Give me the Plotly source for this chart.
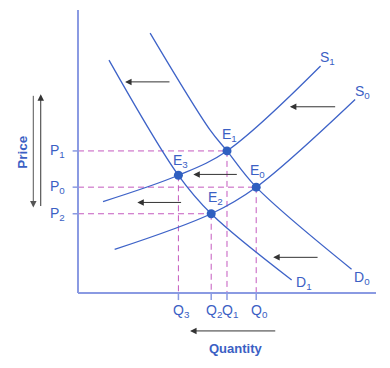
import plotly.graph_objects as go

# ---- data (arbitrary units: quantity 0-100, price 0-100) ----
# equilibrium points
eq_names = ["E0", "E1", "E2", "E3"]
eq_q = [59.8, 50.0, 44.7, 33.7]
eq_p = [37.4, 50.2, 28.0, 41.6]

# price tick labels and quantity tick labels
p_labels = ["P<sub>1</sub>", "P<sub>0</sub>", "P<sub>2</sub>"]
p_values = [50.2, 37.4, 28.0]
p_to_q = [50.0, 59.8, 44.7]
q_labels = ["Q<sub>3</sub>", "Q<sub>2</sub>", "Q<sub>1</sub>", "Q<sub>0</sub>"]
q_values = [33.7, 44.7, 50.0, 59.8]
q_to_p = [41.6, 28.0, 50.2, 37.4]

# curves
d0_q = [24.2, 44.3, 50.0, 59.8, 91.8]
d0_p = [91.8, 57.6, 50.2, 37.4, 8.4]
d1_q = [10.4, 33.7, 44.7, 71.7]
d1_p = [82.3, 41.6, 28.0, 4.6]
s1_q = [8.4, 33.7, 50.0, 81.4]
s1_p = [32.3, 41.6, 50.2, 80.2]
s0_q = [12.3, 44.7, 59.8, 93.0]
s0_p = [15.4, 28.0, 37.4, 68.4]

BLUE = "#3e63c8"
TEXT = "#3b60c4"
AXIS = "#8a9ae2"
PINK = "#c45abf"
ARROW = "#333333"
FONT = "Liberation Sans"

fig = go.Figure()

# dashed guide lines
for lab, p, q in zip(p_labels, p_values, p_to_q):
    fig.add_trace(go.Scatter(x=[0, q], y=[p, p], mode="lines",
                             line=dict(color=PINK, width=1, dash="6px,4px"),
                             hoverinfo="skip", showlegend=False))
for q, p in zip(q_values, q_to_p):
    fig.add_trace(go.Scatter(x=[q, q], y=[p, 0], mode="lines",
                             line=dict(color=PINK, width=1, dash="6px,4px"),
                             hoverinfo="skip", showlegend=False))

# curves
for qx, py in [(d0_q, d0_p), (d1_q, d1_p), (s1_q, s1_p), (s0_q, s0_p)]:
    fig.add_trace(go.Scatter(x=qx, y=py, mode="lines",
                             line=dict(color=BLUE, width=1.3, shape="spline", smoothing=1.0),
                             hoverinfo="skip", showlegend=False))

# equilibrium points
fig.add_trace(go.Scatter(x=eq_q, y=eq_p, mode="markers",
                         marker=dict(color="#2f5fc0", size=9),
                         hoverinfo="skip", showlegend=False))

shapes = []
# axes
shapes.append(dict(type="line", x0=0, y0=0, x1=0, y1=100, line=dict(color=AXIS, width=2)))
shapes.append(dict(type="line", x0=0, y0=0, x1=100, y1=0, line=dict(color=AXIS, width=2)))
# ticks
for q in q_values:
    shapes.append(dict(type="line", x0=q, y0=0, x1=q, y1=-2.5, line=dict(color=AXIS, width=1.5)))
for p in p_values:
    shapes.append(dict(type="line", x0=0, y0=p, x1=-1.8, y1=p, line=dict(color=AXIS, width=1.5)))

ann = []
tf = dict(family=FONT, size=14, color=TEXT)
for lab, p in zip(p_labels, p_values):
    ann.append(dict(x=-3.6, y=p, text=lab, showarrow=False, xanchor="right", yanchor="middle", font=tf))
for lab, q in zip(q_labels, q_values):
    ann.append(dict(x=q + 1.0, y=-6.2, text=lab, showarrow=False, xanchor="center", yanchor="middle", font=tf))

eq_label_off = {"E0": (0.6, 5.6), "E1": (0.8, 5.8), "E2": (1.5, 5.6), "E3": (0.6, 5.2)}
for n, q, p in zip(eq_names, eq_q, eq_p):
    dx, dy = eq_label_off[n]
    ann.append(dict(x=q + dx, y=p + dy, text="E<sub>" + n[1] + "</sub>", showarrow=False,
                    xanchor="center", yanchor="middle", font=tf))

curve_labels = [("S<sub>1</sub>", 83.8, 83.0), ("S<sub>0</sub>", 95.5, 71.0),
                ("D<sub>0</sub>", 95.2, 5.2), ("D<sub>1</sub>", 76.0, 3.4)]
for t, x, y in curve_labels:
    ann.append(dict(x=x, y=y, text=t, showarrow=False, xanchor="center", yanchor="middle", font=tf))

ann.append(dict(x=-18.9, y=49.8, text="<b>Price</b>", textangle=-90, showarrow=False,
                xanchor="center", yanchor="middle", font=dict(family=FONT, size=13.5, color=TEXT)))
ann.append(dict(x=52.7, y=-19.6, text="<b>Quantity</b>", showarrow=False,
                xanchor="center", yanchor="middle", font=dict(family=FONT, size=13, color=TEXT)))

# shift arrows: (tail_x, tail_y, head_x, head_y)
arrows = [(31.2, 74.6, 15.8, 74.6), (86.8, 65.8, 71.1, 65.8), (53.8, 41.9, 38.7, 41.9),
          (35.1, 32.0, 19.9, 32.0), (80.9, 12.6, 65.5, 12.6), (66.7, -13.4, 37.6, -13.4),
          (-15.0, 70.2, -15.0, 30.2), (-12.5, 30.2, -12.5, 70.2)]
for i, (tx, ty, hx, hy) in enumerate(arrows):
    col = "#555555" if i == 6 else ARROW
    ann.append(dict(x=hx, y=hy, ax=tx, ay=ty, xref="x", yref="y", axref="x", ayref="y",
                    text="", showarrow=True, arrowhead=2, arrowsize=1.3, arrowwidth=1,
                    arrowcolor=col, standoff=0, startstandoff=0))

fig.update_layout(
    width=390, height=368,
    margin=dict(l=0, r=0, t=0, b=0),
    paper_bgcolor="white", plot_bgcolor="white",
    xaxis=dict(range=[-26.17, 104.70], visible=False, fixedrange=True),
    yaxis=dict(range=[-26.50, 103.53], visible=False, fixedrange=True),
    shapes=shapes, annotations=ann, showlegend=False,
)

fig.write_html("out.html")
